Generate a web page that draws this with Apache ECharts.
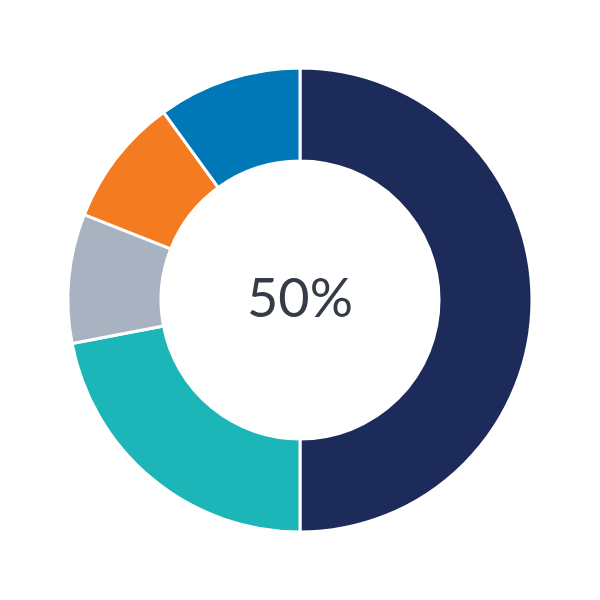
<!DOCTYPE html>
<html>
<head>
<meta charset="utf-8">
<script src="https://cdn.jsdelivr.net/npm/echarts@6/dist/echarts.min.js"></script>
<style>
  html, body { margin: 0; padding: 0; background: #fff; }
  #chart { width: 600px; height: 600px; }
</style>
</head>
<body>
<div id="chart"></div>
<script>
// slice values, clockwise from 12 o'clock
var names = ['A', 'B', 'C', 'D', 'E']
var values = [50, 22, 9, 9, 10]
var colors = ['#1c2b5a', '#1cb5b8', '#a8b2c0', '#f47b20', '#0077b6']
var centerLabel = '50%'

var chart = echarts.init(document.getElementById('chart'))
chart.setOption({
  animation: false,
  title: {
    text: centerLabel,
    left: 'center',
    top: 'middle',
    textStyle: {
      fontFamily: 'Lato',
      fontWeight: 'normal',
      fontSize: 54,
      color: '#353c47'
    }
  },
  series: [{
    type: 'pie',
    center: [300, 300],
    radius: [139, 232],
    startAngle: 90,
    clockwise: true,
    label: { show: false },
    labelLine: { show: false },
    itemStyle: {
      borderColor: '#fff',
      borderWidth: 3
    },
    data: values.map(function (v, i) {
      return { name: names[i], value: v, itemStyle: { color: colors[i] } }
    })
  }]
})
</script>
</body>
</html>
